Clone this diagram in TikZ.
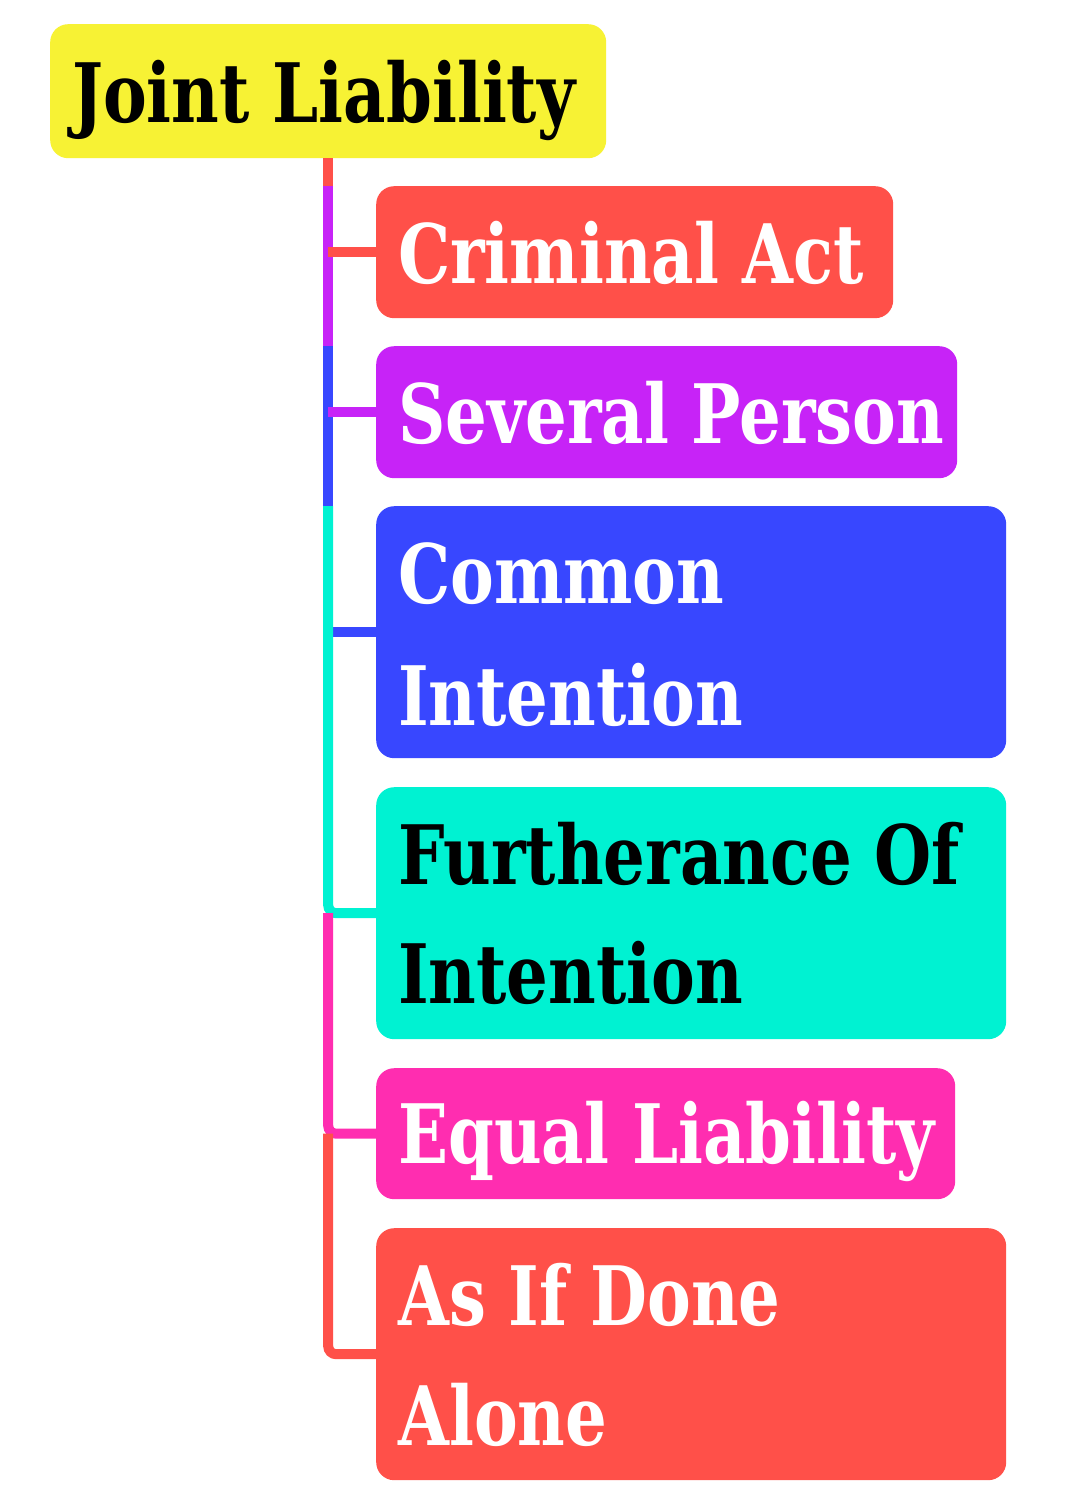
\documentclass[tikz,border=0pt]{standalone}
\usepackage{fontspec}
\newfontfamily\slabfont[FakeStretch=0.80]{DejaVu Serif Bold}
\begin{document}
\begin{tikzpicture}[x=1pt,y=-1pt,
  box/.style={rectangle, rounded corners=18pt, draw=none, inner sep=0pt, anchor=north west},
  lbl/.style={anchor=base west, inner sep=0pt, font=\slabfont\fontsize{82}{120}\selectfont},
  conn/.style={line width=10pt, rounded corners=8pt}]
\definecolor{cyel}{HTML}{F7F234}
\definecolor{cred}{HTML}{FF5049}
\definecolor{cpur}{HTML}{C723F7}
\definecolor{cblu}{HTML}{3847FF}
\definecolor{ctea}{HTML}{00F2D2}
\definecolor{cpin}{HTML}{FF2DB0}
\fill[white] (0,0) rectangle (1080,1502);
\useasboundingbox (0,0) rectangle (1080,1502);
% boxes
\node[box, fill=cyel, minimum width=556pt, minimum height=134pt] (root) at (50,24) {};
\node[box, fill=cred, minimum width=517pt, minimum height=132pt] (crim) at (376,186) {};
\node[box, fill=cpur, minimum width=581pt, minimum height=132pt] (sev) at (376,346) {};
\node[box, fill=cblu, minimum width=630pt, minimum height=252pt] (com) at (376,506) {};
\node[box, fill=ctea, minimum width=630pt, minimum height=252pt] (fur) at (376,787) {};
\node[box, fill=cpin, minimum width=579pt, minimum height=131pt] (eq) at (376,1068) {};
\node[box, fill=cred, minimum width=630pt, minimum height=252pt] (asif) at (376,1228) {};
% connectors
\draw[conn, cred] (root.south) -- (root.south |- crim.north);
\draw[conn, cpur] (root.south |- crim.north) -- (root.south |- sev.north);
\draw[conn, cblu] (root.south |- sev.north) -- (root.south |- com.north);
\draw[conn, cred] (root.south |- crim.west) -- (crim.west);
\draw[conn, cpur] (root.south |- sev.west) -- (sev.west);
\draw[conn, cblu] (root.south |- com.west) -- (com.west);
\draw[conn, ctea] (root.south |- com.north) -- (root.south |- fur.west) -- (fur.west);
\draw[conn, cpin] (root.south |- fur.west) -- (root.south |- eq.west) -- (eq.west);
\draw[conn, cred] (root.south |- eq.west) -- (root.south |- asif.west) -- (asif.west);
% labels
\node[lbl, text=black] (rootT) at (72,122) {Joint Liability};
\node[lbl, text=white] (crimT) at (398,283) {Criminal Act};
\node[lbl, text=white] (sevT) at (398,443) {Several Person};
\node[lbl, text=white] (comT1) at (398,603) {Common};
\node[lbl, text=white] (comT2) at (398,725) {Intention};
\node[lbl, text=black] (furT1) at (398,884) {Furtherance Of};
\node[lbl, text=black] (furT2) at (398,1003) {Intention};
\node[lbl, text=white] (eqT) at (398,1163) {Equal Liability};
\node[lbl, text=white] (asifT1) at (398,1325) {As If Done};
\node[lbl, text=white] (asifT2) at (398,1445) {Alone};
\end{tikzpicture}
\end{document}
